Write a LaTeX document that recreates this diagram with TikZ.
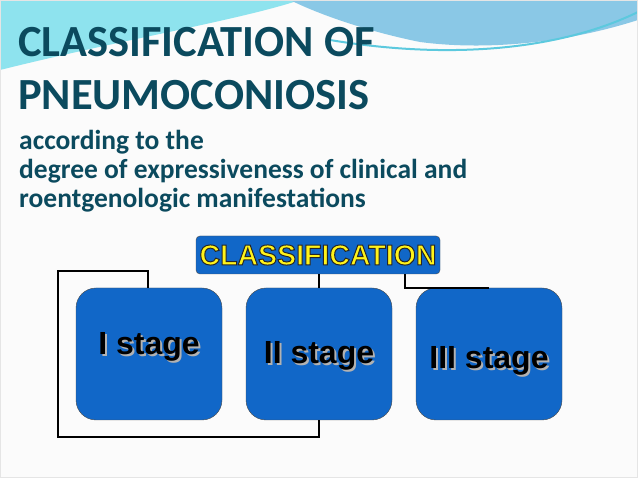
\documentclass[tikz,border=0pt]{standalone}
\usepackage{fontspec}
\setmainfont{Carlito}
\newfontfamily\boxfont{Liberation Sans}
\usetikzlibrary{positioning}
\definecolor{titleteal}{HTML}{0B4A5E}
\definecolor{stageblue}{HTML}{1167C8}
\definecolor{waveA}{HTML}{8EE3EE}
\definecolor{waveB}{HTML}{8AC8E6}
\definecolor{waveC}{HTML}{5CC9DE}
\tikzset{
  stage/.style={draw=black!70, fill=stageblue, rounded corners=20pt,
    minimum width=146pt, minimum height=132pt, inner sep=0pt},
  stagetext/.style={font=\boxfont\bfseries\fontsize{32}{34}\selectfont},
  link/.style={draw=black, line width=1.8pt},
  heading/.style={anchor=west, inner sep=0pt, text=titleteal, font=\bfseries\fontsize{44.5}{44}\selectfont}
}
\newcommand{\shadowtext}[1]{\makebox[0pt][l]{\kern2pt\raisebox{-2pt}{\color{black!30}#1}}#1}
\begin{document}
\begin{tikzpicture}[x=1pt,y=-1pt]
  \useasboundingbox (0,0) rectangle (638,478);
  \fill[white!97!gray] (0,0) rectangle (638,478);
  % waves at the top
  \fill[waveA] (0,0) -- (300,0) .. controls (240,20) and (120,40) .. (0,70) -- cycle;
  \fill[waveB] (290,0) -- (638,0) -- (638,20) .. controls (560,45) and (480,50) .. (420,42)
    .. controls (370,32) and (320,15) .. (290,0) -- cycle;
  \draw[waveC, line width=2pt] (330,40) .. controls (450,60) and (560,50) .. (638,12);
  \draw[white!80!gray] (0.5,0.5) rectangle (637.5,477.5);
  % title
  \node[heading] (title1) at (18,42) {CLASSIFICATION OF};
  \node[heading] (title2) at (18,95) {PNEUMOCONIOSIS};
  \node[anchor=north west, inner sep=0pt, text=titleteal, font=\bfseries\fontsize{27.5}{29}\selectfont,
    align=left] (sub) at (19,130) {according to the\\degree of expressiveness of clinical and\\roentgenologic manifestations};
  % boxes
  \node[draw=black!70, fill=stageblue, rounded corners=4pt, minimum width=244pt, minimum height=38pt,
    inner sep=0pt] (cls) at (318,255) {};
  \node[font=\boxfont\bfseries\fontsize{28.5}{30}\selectfont, text=yellow!90!white] at (cls)
    {\special{pdf:literal direct 2 Tr 1 w 0.15 G}CLASSIFICATION\special{pdf:literal direct 0 Tr}};
  \node[stage] (s1) at (149,354) {};
  \node[stage] (s2) at (319,354) {};
  \node[stage] (s3) at (489,354) {};
  \node[stagetext] at (149,348) {\shadowtext{I stage}};
  \node[stagetext] at (319,357) {\shadowtext{II stage}};
  \node[stagetext] at (489,362) {\shadowtext{III stage}};
  % connectors
  \coordinate (c1) at (148,271);
  \coordinate (c2) at (58,271);
  \coordinate (c3) at (58,437);
  \coordinate (c4) at (319,437);
  \coordinate (c5) at (405,288);
  \draw[link] (s1.north -| c1) -- (c1) -- (c2) -- (c3) -- (c4) -- (s2.south);
  \draw[link] (cls.south -| s2) -- (s2.north);
  \draw[link] (cls.south -| c5) -- (c5) -- (c5 -| s3.north);
\end{tikzpicture}
\end{document}
